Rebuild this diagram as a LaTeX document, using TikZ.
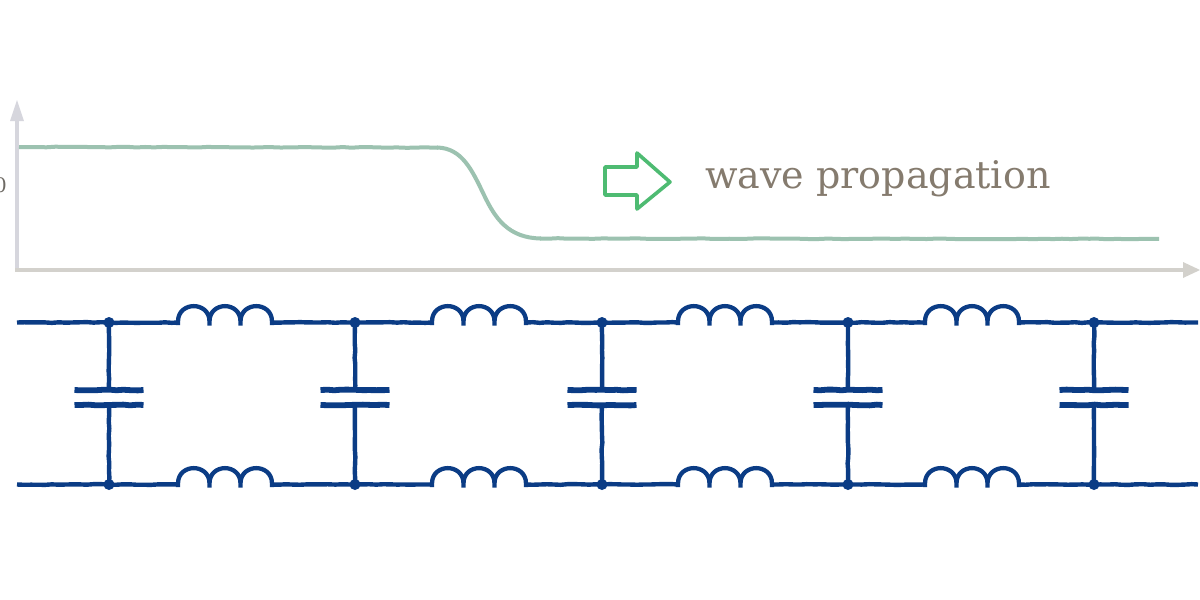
\documentclass[tikz,border=0pt]{standalone}
\usepackage{fontspec}
\setmainfont{DejaVu Serif}
\usetikzlibrary{decorations.pathmorphing,arrows.meta,calc}
\definecolor{wire}{HTML}{0B3C85}
\definecolor{wave}{HTML}{9CC2B0}
\definecolor{yaxis}{HTML}{D6D6DD}
\definecolor{xaxis}{HTML}{D3D1CC}
\definecolor{arrowgreen}{HTML}{4EBB72}
\definecolor{label}{HTML}{857B6E}
\definecolor{zerocol}{HTML}{6E6A64}
\tikzset{
  rough/.style={decorate,decoration={random steps,segment length=7pt,amplitude=0.4pt}},
  wireline/.style={draw=wire,line width=4.4pt,rough},
  coil/.style={draw=wire,line width=4.3pt,line join=round},
  plate/.style={draw=wire,line width=5.8pt,rough},
  junction/.style={circle,fill=wire,inner sep=0pt,minimum size=11pt},
  axisy/.style={draw=yaxis,line width=3.2pt},
  axisx/.style={draw=xaxis,line width=3.2pt},
  wavecurve/.style={draw=wave,line width=4pt,line cap=butt},
  bigarrow/.style={draw=arrowgreen,line width=3.6pt,line join=round},
  caption/.style={text=label,inner sep=0pt,anchor=base west,font=\fontsize{38}{38}\selectfont}
}
\pgfmathsetseed{42}
\begin{document}
\begin{tikzpicture}[x=1pt,y=-1pt]
\useasboundingbox (0,0) rectangle (1200,600);
\fill[white] (0,0) rectangle (1200,600);

% axes
\coordinate (origin) at (17,270);
\coordinate (ytip) at (17,100);
\coordinate (xtip) at (1200,270);
\draw[axisy] (origin) -- (17,118);
\fill[yaxis] (ytip) -- (10,121) -- (24,121) -- cycle;
\draw[axisx] (15.4,270) -- (1184,270);
\fill[xaxis] (xtip) -- (1183,262) -- (1183,278) -- cycle;
\node[text=zerocol,inner sep=0pt,font=\fontsize{20}{20}\selectfont] (zero) at (0.5,185) {0};

% wave
\draw[wavecurve,decorate,decoration={random steps,segment length=9pt,amplitude=0.35pt}]
  (19,147) -- (438,147.5);
\draw[wavecurve] (437,147.5) .. controls (462,148) and (472,170) .. (484,195)
  .. controls (495,218) and (508,238) .. (541,238.5);
\draw[wavecurve,decorate,decoration={random steps,segment length=9pt,amplitude=0.35pt}]
  (540,238.5) -- (1159,239);

% arrow and label
\draw[bigarrow] (605,167) -- (637,167) -- (637,153) -- (670,182) -- (637,209) -- (637,195) -- (605,195) -- cycle;
\node[caption] (cap) at (705,188) {wave propagation};

% ladder
\foreach \n/\x in {1/109,2/355,3/602,4/848,5/1094}{
  \node[junction] (t\n) at (\x,322.5) {};
  \node[junction] (b\n) at (\x,484.5) {};
  \coordinate (pu\n) at (\x,390);
  \coordinate (pd\n) at (\x,405);
  \draw[wireline] (t\n.center) -- (pu\n);
  \draw[wireline] (b\n.center) -- (pd\n);
  \draw[plate] ($(pu\n)+(-34.5,0)$) -- ($(pu\n)+(34.5,0)$);
  \draw[plate] ($(pd\n)+(-34.5,0)$) -- ($(pd\n)+(34.5,0)$);
}
\foreach \i/\a in {1/178,2/432,3/678,4/925}{
  \foreach \r/\y in {t/322.5,b/484.5}{
    \coordinate (\r L\i) at (\a,\y);
    \coordinate (\r R\i) at (\a+94,\y);
    \draw[coil] (\a,\y+2.5) -- (\a,\y-1)
      .. controls (\a,\y-21.5) and (\a+31.5,\y-21.5) .. (\a+31.5,\y-1) -- (\a+31.5,\y+3)
      (\a+31.5,\y-1)
      .. controls (\a+31.5,\y-21.5) and (\a+62.5,\y-21.5) .. (\a+62.5,\y-1) -- (\a+62.5,\y+3)
      (\a+62.5,\y-1)
      .. controls (\a+62.5,\y-21.5) and (\a+94,\y-21.5) .. (\a+94,\y-1) -- (\a+94,\y+2.5);
  }
}
\coordinate (tstart) at (17,322.5);
\coordinate (bstart) at (17,484.5);
\coordinate (tend) at (1198,322.5);
\coordinate (bend) at (1198,484.5);
\foreach \r in {t,b}{
  \draw[wireline] (\r start) -- (\r 1.center) -- (\r L1);
  \draw[wireline] (\r R1) -- (\r 2.center) -- (\r L2);
  \draw[wireline] (\r R2) -- (\r 3.center) -- (\r L3);
  \draw[wireline] (\r R3) -- (\r 4.center) -- (\r L4);
  \draw[wireline] (\r R4) -- (\r 5.center) -- (\r end);
}
\end{tikzpicture}
\end{document}
